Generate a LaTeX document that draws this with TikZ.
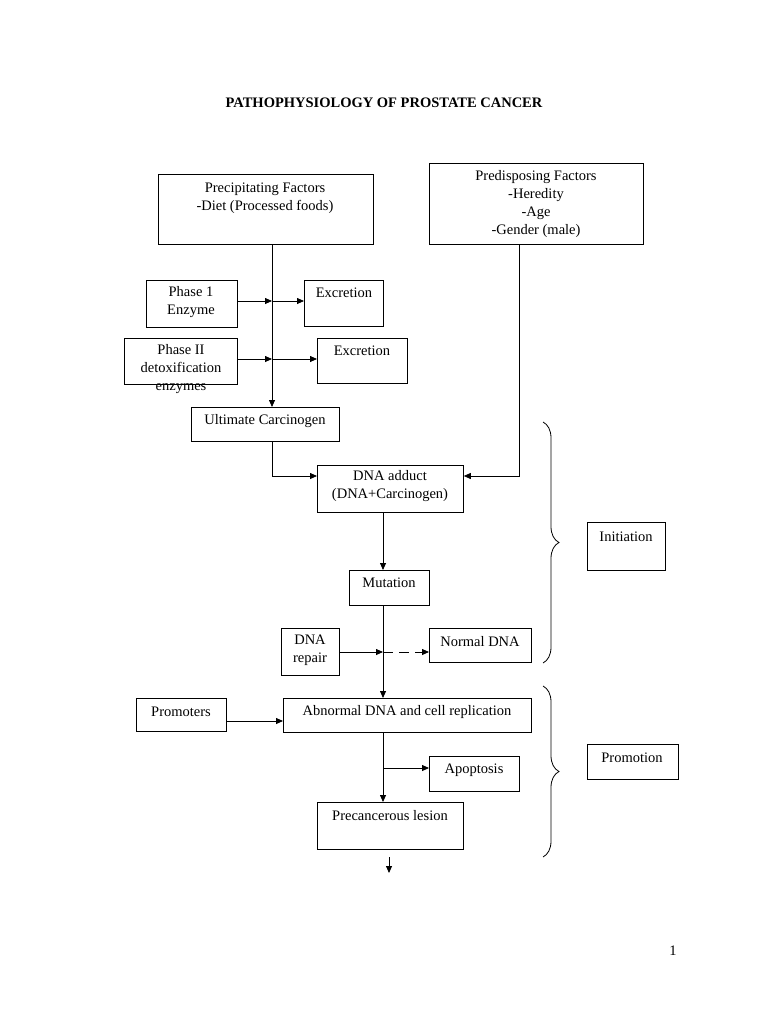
\documentclass[tikz,border=0pt]{standalone}
\usepackage{fontspec}
\setmainfont{Liberation Serif}
\usetikzlibrary{arrows.meta,decorations.pathreplacing}
\begin{document}
\begin{tikzpicture}[x=1pt,y=-1pt,
  box/.style={draw,line width=0.8pt,inner sep=0pt,anchor=north west},
  txt/.style={inner sep=0pt,align=center,font=\fontsize{14.5}{18}\selectfont},
  ar/.style={line width=0.8pt,-{Triangle[length=7pt,width=6pt]}},
  ln/.style={line width=0.8pt},
  br/.style={line width=0.8pt,decorate,decoration={brace,amplitude=16pt,raise=0pt}}]
\useasboundingbox (0,0) rectangle (768,1024);
\newcommand{\bx}[5]{\node[box,minimum width=#4pt-#2pt,minimum height=#5pt-#3pt] (#1) at (#2,#3) {};}
\node[txt,font=\bfseries\fontsize{14.5}{18}\selectfont] (title) at (384,103) {PATHOPHYSIOLOGY OF PROSTATE CANCER};
\bx{pf}{158}{174}{373}{244}
\node[txt] (pft) at (265,198) {Precipitating Factors\\-Diet (Processed foods)};
\bx{pd}{429}{163}{643}{244}
\node[txt] (pdt) at (536,204) {Predisposing Factors\\-Heredity\\-Age\\-Gender (male)};
\bx{p1}{146}{280}{237}{327}
\node[txt] (p1t) at (191,302) {Phase 1\\Enzyme};
\bx{e1}{304}{280}{383}{326}
\node[txt] (e1t) at (344,293) {Excretion};
\bx{p2}{124}{338}{237}{384}
\node[txt] (p2t) at (181,369) {Phase II\\detoxification\\enzymes};
\bx{e2}{317}{338}{407}{383}
\node[txt] (e2t) at (362,351) {Excretion};
\bx{uc}{191}{407}{339}{441}
\node[txt] (uct) at (265,421) {Ultimate Carcinogen};
\bx{da}{317}{465}{463}{512}
\node[txt] (dat) at (390,486) {DNA adduct\\(DNA+Carcinogen)};
\bx{mu}{349}{570}{429}{605}
\node[txt] (mut) at (389,583) {Mutation};
\bx{dr}{281}{628}{339}{675}
\node[txt] (drt) at (310,650) {DNA\\repair};
\bx{nd}{429}{628}{531}{662}
\node[txt] (ndt) at (480,642) {Normal DNA};
\bx{ab}{283}{698}{531}{732}
\node[txt] (abt) at (407,712) {Abnormal DNA and cell replication};
\bx{pr}{136}{698}{226}{731}
\node[txt] (prt) at (181,712) {Promoters};
\bx{ap}{429}{756}{519}{791}
\node[txt] (apt) at (474,770) {Apoptosis};
\bx{pc}{317}{802}{463}{849}
\node[txt] (pct) at (390,816) {Precancerous lesion};
\bx{in}{587}{522}{665}{570}
\node[txt] (int) at (626,537) {Initiation};
\bx{pm}{587}{744}{678}{779}
\node[txt] (pmt) at (632,758) {Promotion};
\node[txt] (pg) at (673,951) {1};
% coordinates
\coordinate (j1) at (272,301); \coordinate (j2) at (272,359);
\coordinate (u1) at (272,476); \coordinate (d1) at (519,476);
\coordinate (r1) at (383,652); \coordinate (a1) at (383,768);
\coordinate (f1) at (389,857); \coordinate (f2) at (389,873);
\draw[ar] (272,244) -- (272,407);
\draw[ar] (p1.east|-j1) -- (j1); \draw[ar] (j1) -- (e1.west|-j1);
\draw[ar] (p2.east|-j2) -- (j2); \draw[ar] (j2) -- (e2.west|-j2);
\draw[ar] (272,441) -- (u1) -- (da.west|-u1);
\draw[ar] (519,244) -- (d1) -- (da.east|-d1);
\draw[ar] (383,512) -- (383,570);
\draw[ar] (383,605) -- (383,698);
\draw[ar] (dr.east|-r1) -- (r1);
\draw[ar,dash pattern=on 10pt off 6pt] (r1) -- (nd.west|-r1);
\draw[ar] (pr.east|-0,721) -- (ab.west|-0,721);
\draw[ar] (383,732) -- (383,802);
\draw[ar] (a1) -- (ap.west|-a1);
\draw[ar] (f1) -- (f2);
% braces
\draw[br] (543,422) -- (543,663);
\draw[br] (543,686) -- (543,857);
\end{tikzpicture}
\end{document}
